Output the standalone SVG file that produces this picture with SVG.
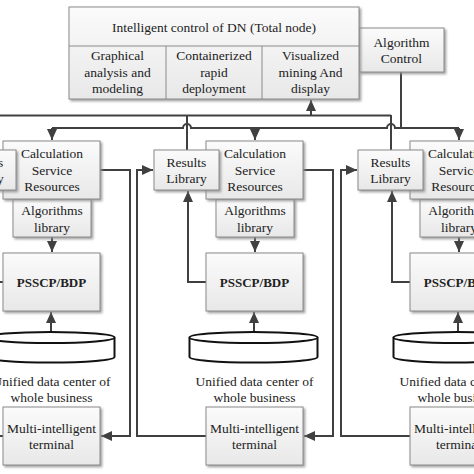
<svg xmlns="http://www.w3.org/2000/svg" width="474" height="474" viewBox="0 0 474 474">
<style>
.box{fill:url(#bg);stroke:#8a8a8a;stroke-width:1;filter:url(#sh)}
text{font-family:'Liberation Serif','Times New Roman','DejaVu Serif',serif;font-size:13.5px;fill:#222;text-anchor:middle}
.b{font-weight:bold;font-size:13px}
.ln{fill:none;stroke:#404040;stroke-width:2}
.ar{marker-end:url(#ar)}
.cyl{fill:#fff;stroke:#111;stroke-width:2}
</style>
<defs>
<linearGradient id="bg" x1="0" y1="0" x2="0" y2="1">
<stop offset="0" stop-color="#fbfbfb"/>
<stop offset="1" stop-color="#e8e8e8"/>
</linearGradient>
<filter id="sh" x="-10%" y="-10%" width="130%" height="130%">
<feDropShadow dx="1.8" dy="1.8" stdDeviation="1.2" flood-color="#8c8c8c" flood-opacity="0.8"/>
</filter>
<marker id="ar" markerUnits="userSpaceOnUse" markerWidth="12" markerHeight="12" viewBox="0 0 12 12" refX="11" refY="6" orient="auto">
<path d="M0,1 L11,6 L0,11 Z" fill="#404040"/>
</marker>
<g id="grp" font-family="Liberation Serif, serif">
<g id="conn-g">
<path class="ln ar" d="M255,128 V140"/>
<path class="ln ar" d="M255,237 V252"/>
<path class="ln ar" d="M254,332 V312"/>
<path class="ln ar" d="M206,282 H188 V191"/>
<path class="ln ar" d="M303,170 H333 V436 H304"/>
<path class="ln ar" d="M206,436 H137 V170 H153"/>
<path class="ln" d="M187,150 V115"/>
</g>
<g class="node-alg">
<rect class="box" x="216" y="199" width="78" height="38"/>
<text x="255" y="214.5">Algorithms</text>
<text x="255" y="231.5">library</text>
</g>
<g class="node-calc">
<rect class="box" x="206" y="141" width="97" height="58"/>
<text x="255" y="157.5">Calculation</text>
<text x="255" y="174.5">Service</text>
<text x="255" y="190.5">Resources</text>
</g>
<g class="node-res">
<rect class="box" x="154" y="150" width="65" height="40"/>
<text x="186.5" y="166.5">Results</text>
<text x="186.5" y="182.5">Library</text>
</g>
<g class="node-psscp">
<rect class="box" x="206" y="253" width="97" height="58"/>
<text class="b" x="254.5" y="286.5">PSSCP/BDP</text>
</g>
<g class="node-db">
<path class="cyl" d="M189.5,337.5 V357 A64,5.5 0 0 0 317.5,357 V337.5"/>
<ellipse class="cyl" cx="253.5" cy="337.5" rx="64" ry="5.5"/>
<text x="254.5" y="385.5">Unified data center of</text>
<text x="254.5" y="401.5">whole business</text>
</g>
<g class="node-term">
<rect class="box" x="206" y="407" width="97" height="58"/>
<text x="254.5" y="432.5">Multi-intelligent</text>
<text x="254.5" y="448.5">terminal</text>
</g>
</g>
</defs>

<g id="connectors">
<path class="ln" d="M0,115.5 H391"/>
<path class="ln ar" d="M311,115.5 V100"/>
<path class="ln" d="M401,72 V128"/>
<path class="ln" d="M52,128 H183 a4,4 0 0 1 8,0 H387 a4,4 0 0 1 8,0 H459"/>
</g>

<g id="algorithm-control">
<rect class="box" x="359" y="28" width="85" height="44"/>
<text x="401.5" y="46.5">Algorithm</text>
<text x="401.5" y="62.5">Control</text>
</g>

<g id="total-node">
<rect class="box" x="69" y="7" width="290" height="92"/>
<path d="M69,46 H359 M166,46 V99 M262,46 V99" stroke="#8a8a8a" stroke-width="1" fill="none"/>
<text x="214" y="31.5">Intelligent control of DN (Total node)</text>
<text x="117.5" y="59.5">Graphical</text>
<text x="117.5" y="76.5">analysis and</text>
<text x="117.5" y="92.5">modeling</text>
<text x="214" y="59.5">Containerized</text>
<text x="214" y="76.5">rapid</text>
<text x="214" y="92.5">deployment</text>
<text x="310.5" y="59.5">Visualized</text>
<text x="310.5" y="76.5">mining And</text>
<text x="310.5" y="92.5">display</text>
</g>

<g id="group-left"><use href="#grp" transform="translate(-203,0)"/></g>
<g id="group-middle"><use href="#grp"/></g>
<g id="group-right"><use href="#grp" transform="translate(204,0)"/></g>
</svg>
